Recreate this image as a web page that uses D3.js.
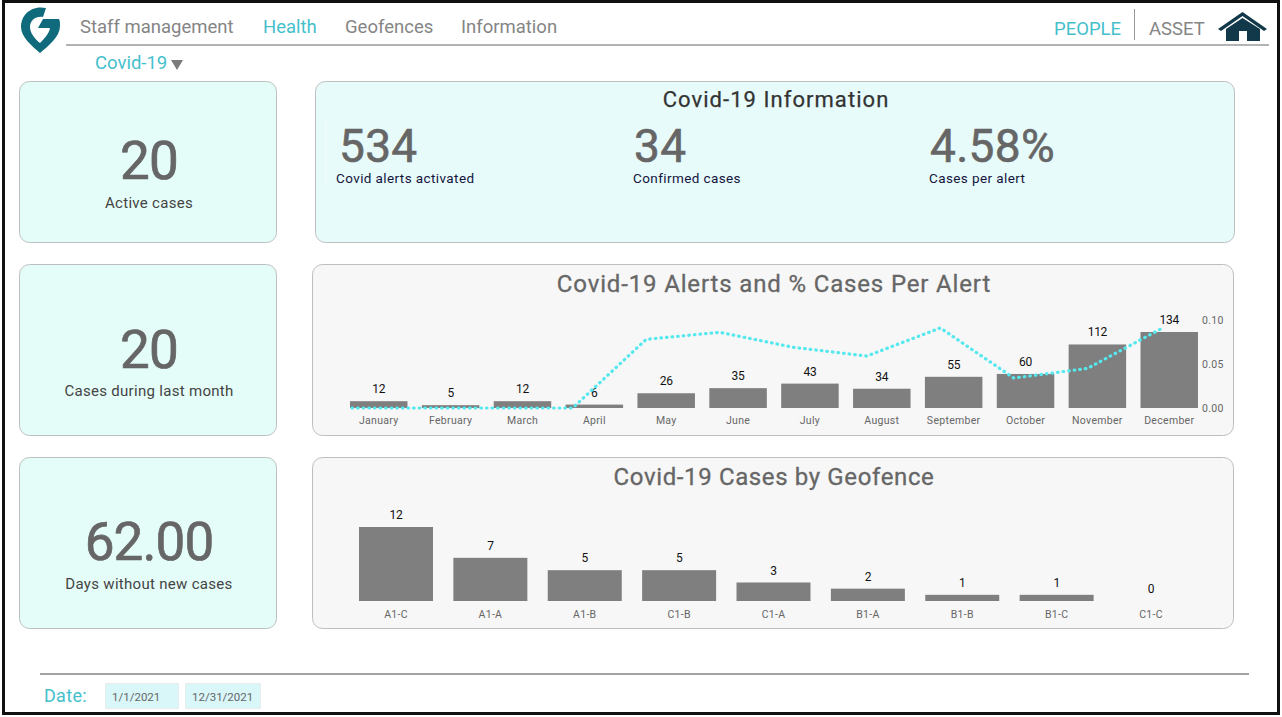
<!DOCTYPE html>
<html>
<head>
<meta charset="utf-8">
<script src="https://d3js.org/d3.v7.min.js"></script>
<style>
  html, body { margin: 0; padding: 0; background: #fff; overflow: hidden; }
  svg { display: block; }
  text { font-family: Roboto, "Noto Sans", sans-serif; }
</style>
</head>
<body>
<svg width="1282" height="717"></svg>
<script>
// chart data
var months = ["January", "February", "March", "April", "May", "June", "July", "August", "September", "October", "November", "December"];
var alerts = [12, 5, 12, 6, 26, 35, 43, 34, 55, 60, 112, 134];
var casesPerAlert = [0, 0, 0, 0, 0.078, 0.086, 0.069, 0.059, 0.091, 0.034, 0.045, 0.090];
var rateTicks = [0, 0.05, 0.10];
var geofences = ["A1-C", "A1-A", "A1-B", "C1-B", "C1-A", "B1-A", "B1-B", "B1-C", "C1-C"];
var geofenceCases = [12, 7, 5, 5, 3, 2, 1, 1, 0];

// page text
var navItems = ["Staff management", "Health", "Geofences", "Information"];
var leftKpiValues = ["20", "20", "62.00"];
var leftKpiLabels = ["Active cases", "Cases during last month", "Days without new cases"];
var infoValues = ["534", "34", "4.58%"];
var infoLabels = ["Covid alerts activated", "Confirmed cases", "Cases per alert"];
var dateRange = ["1/1/2021", "12/31/2021"];

var TEAL = "#45bfcc", GREY = "#7f7f7f", TEXT = "#666666";
var svg = d3.select("svg");

// heavy = stroke width on the glyphs, the original font sits between regular and medium
function label(x, y, str, size, fill, anchor, spacing, heavy) {
    return svg.append("text")
        .attr("x", x).attr("y", y)
        .attr("text-anchor", anchor || "start")
        .attr("fill", fill)
        .attr("stroke", heavy ? fill : "none")
        .attr("stroke-width", heavy || 0)
        .style("font-size", size + "px")
        .style("letter-spacing", (spacing || 0) + "px")
        .text(str);
}

function card(x, y, w, h, fill) {
    svg.append("rect")
        .attr("x", x + 0.5).attr("y", y + 0.5)
        .attr("width", w).attr("height", h)
        .attr("rx", 10)
        .attr("fill", fill)
        .attr("stroke", "#bdbfbf");
}

// outer frame
svg.append("rect")
    .attr("x", 3.5).attr("y", 1.5)
    .attr("width", 1275).attr("height", 712)
    .attr("fill", "#fff")
    .attr("stroke", "#111")
    .attr("stroke-width", 3);

// header
svg.append("path")
    .attr("d", "M46 8 C31 5 21 15 21 27 C21 37 32 46 40 53 C48 46 60 37 60 26 C60 23 60 21 59 19 L43 19 L38 28 L50 28 C49 34 44 39 40 43 C35 39 30 33 30 27 C30 20 36 16 43 17 Z")
    .attr("fill", "#0f6b7c");

svg.append("line").attr("x1", 66).attr("x2", 1269).attr("y1", 45).attr("y2", 45)
    .attr("stroke", "#9a9a9a").attr("stroke-width", 1.5);

var navX = [80, 263, 345, 461];
navItems.forEach(function(d, i) {
    label(navX[i], 33, d, 18.5, d === "Health" ? TEAL : "#858585");
});
label(1054, 35, "PEOPLE", 18.5, TEAL);
label(1149, 35, "ASSET", 18.5, "#858585");
svg.append("line").attr("x1", 1134.5).attr("x2", 1134.5).attr("y1", 9).attr("y2", 40).attr("stroke", "#999");
svg.append("path")
    .attr("d", "M1242.5 12 L1267 29 L1264 31 L1242.5 16 L1221 31 L1218 29 Z M1226 29 L1242.5 18 L1260 29 L1260 41 L1247 41 L1247 31 L1239 31 L1239 41 L1226 41 Z")
    .attr("fill", "#12394a");

label(95, 69, "Covid-19", 18.5, TEAL);
svg.append("path").attr("d", "M171 60 L183 60 L177 70 Z").attr("fill", "#7b7b7b");

// left kpi cards
var leftCards = [[19, 81, 257, 161], [19, 264, 257, 171], [19, 457, 257, 171]];
var leftValueY = [179, 368, 560];
var leftLabelY = [208, 396, 589];
leftCards.forEach(function(c, i) {
    card(c[0], c[1], c[2], c[3], "#e4fdf8");
    label(149, leftValueY[i], leftKpiValues[i], 53, TEXT, "middle", -0.9, 0.7);
    label(149, leftLabelY[i], leftKpiLabels[i], 15, "#444", "middle", 0.3);
});

// info card
card(315, 81, 919, 161, "#e7fbfb");
label(776, 107, "Covid-19 Information", 22, "#333", "middle", 1.05, 0.25);
svg.append("line").attr("x1", 325.5).attr("x2", 325.5).attr("y1", 117).attr("y2", 186).attr("stroke", "#f4fbfb");
var infoX = [339, 634, 930], infoLabelX = [336, 633, 929];
infoValues.forEach(function(d, i) {
    label(infoX[i], 162, d, 46, TEXT, "start", 0.3, 0.6);
    label(infoLabelX[i], 183, infoLabels[i], 13.5, "#14143c", "start", 0.4);
});

// chart cards
card(312, 264, 921, 171, "#f7f7f7");
card(312, 457, 921, 171, "#f7f7f7");
label(774, 292, "Covid-19 Alerts and % Cases Per Alert", 24, TEXT, "middle", 0.85, 0.3);
label(774, 485, "Covid-19 Cases by Geofence", 24, TEXT, "middle", 0.63, 0.3);

function styleAxis(g) {
    g.select(".domain").remove();
    g.selectAll(".tick line").remove();
    g.selectAll(".tick text")
        .attr("fill", TEXT)
        .style("font-size", "10.5px")
        .style("letter-spacing", "0.3px");
}

// monthly alerts chart
var xMonth = d3.scaleBand().domain(months).range([350, 1198]).paddingInner(0.2).paddingOuter(0);
var yAlerts = d3.scaleLinear().domain([0, 134]).range([408, 332]);
var yRate = d3.scaleLinear().domain([0, 0.10]).range([408, 320]);
// the line sits on its own point scale, it drifts left of the bars in the original
var xRate = d3.scalePoint().domain(months).range([352, 1161]);

svg.append("g").selectAll("rect")
    .data(alerts)
    .enter().append("rect")
    .attr("x", function(d, i) { return xMonth(months[i]); })
    .attr("y", function(d) { return yAlerts(d); })
    .attr("width", xMonth.bandwidth())
    .attr("height", function(d) { return yAlerts(0) - yAlerts(d); })
    .attr("fill", GREY);

svg.append("g").attr("transform", "translate(0,408)")
    .call(d3.axisBottom(xMonth).tickSize(0).tickPadding(9))
    .call(styleAxis);

svg.append("g").attr("transform", "translate(1195,0)")
    .call(d3.axisRight(yRate).tickValues(rateTicks).tickFormat(d3.format(".2f")).tickSize(0).tickPadding(7))
    .call(styleAxis);

var rateLine = d3.line()
    .x(function(d, i) { return xRate(months[i]); })
    .y(function(d) { return yRate(d); });

svg.append("g").selectAll("text")
    .data(alerts)
    .enter().append("text")
    .attr("x", function(d, i) { return xMonth(months[i]) + xMonth.bandwidth() / 2; })
    .attr("y", function(d) { return yAlerts(d) - 8; })
    .attr("text-anchor", "middle")
    .attr("fill", "#111")
    .style("font-size", "12px")
    .style("letter-spacing", "-0.3px")
    .text(function(d) { return d; });

svg.append("path")
    .attr("d", rateLine(casesPerAlert))
    .attr("fill", "none")
    .attr("stroke", "#55e8ee")
    .attr("stroke-width", 3.2)
    .attr("stroke-linecap", "round")
    .attr("stroke-dasharray", "0.6 5");

// geofence chart
var xGeo = d3.scaleBand().domain(geofences).range([359, 1188]).paddingInner(0.216).paddingOuter(0);
var yGeo = d3.scaleLinear().domain([0, 12]).range([601, 527]);

svg.append("g").selectAll("rect")
    .data(geofenceCases)
    .enter().append("rect")
    .attr("x", function(d, i) { return xGeo(geofences[i]); })
    .attr("y", function(d) { return yGeo(d); })
    .attr("width", xGeo.bandwidth())
    .attr("height", function(d) { return yGeo(0) - yGeo(d); })
    .attr("fill", GREY);

svg.append("g").attr("transform", "translate(0,601)")
    .call(d3.axisBottom(xGeo).tickSize(0).tickPadding(10))
    .call(styleAxis);

svg.append("g").selectAll("text")
    .data(geofenceCases)
    .enter().append("text")
    .attr("x", function(d, i) { return xGeo(geofences[i]) + xGeo.bandwidth() / 2; })
    .attr("y", function(d) { return yGeo(d) - 8; })
    .attr("text-anchor", "middle")
    .attr("fill", "#111")
    .style("font-size", "12px")
    .style("letter-spacing", "-0.3px")
    .text(function(d) { return d; });

// date slicer
svg.append("line").attr("x1", 40).attr("x2", 1249).attr("y1", 674).attr("y2", 674)
    .attr("stroke", "#858585").attr("stroke-width", 1.5);
label(44, 702, "Date:", 18, TEAL, "start", 0.3);
var dateBoxes = [[105, 73], [185, 75]];
dateRange.forEach(function(d, i) {
    svg.append("rect")
        .attr("x", dateBoxes[i][0] + 0.5).attr("y", 683.5)
        .attr("width", dateBoxes[i][1]).attr("height", 25)
        .attr("fill", "#d9f6f9").attr("stroke", "#e6eeee");
    label(dateBoxes[i][0] + 7, 701, d, 11.5, TEXT);
});
</script>
</body>
</html>
